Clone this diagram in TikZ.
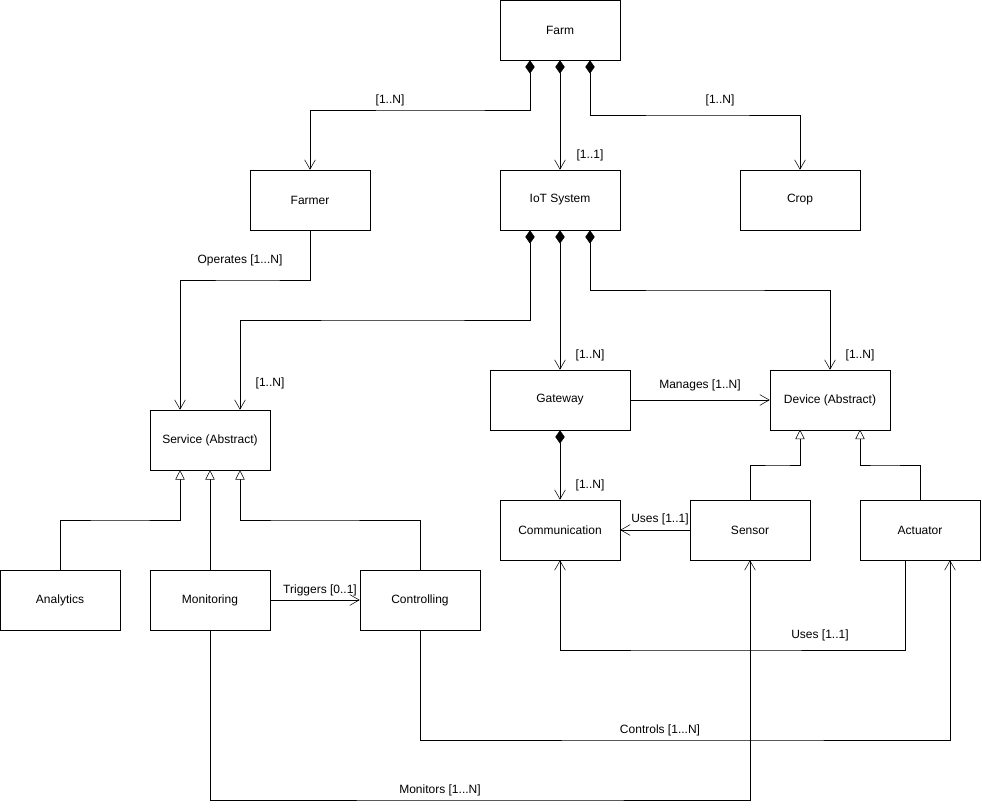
\documentclass[tikz,border=0pt]{standalone}
\usepackage{fontspec}
\setmainfont{Liberation Sans}
\usetikzlibrary{arrows.meta,calc}
\tikzset{
  box/.style={draw,minimum width=90pt,minimum height=45pt,inner sep=0pt,font=\fontsize{9}{11}\selectfont},
  wide/.style={box,minimum width=105pt},
  lbl/.style={font=\fontsize{9}{11}\selectfont},
  assoc/.style={-{Straight Barb[length=7pt,width=8pt]}},
  comp/.style={{Diamond[length=10pt,width=7pt]}-{Straight Barb[length=7pt,width=8pt]}},
  inh/.style={-{Triangle[open,fill=white,length=7pt,width=7pt]}}
}
\begin{document}
\begin{tikzpicture}[x=0.75pt,y=0.75pt,yscale=-1]
\useasboundingbox (0,0) rectangle (982,810);
% classes
\node[box] (farm) at (560,30) {Farm};
\node[box] (farmer) at (310,200) {Farmer};
\node[box] (iot) at (560,200) {IoT System};
\node[box] (crop) at (800,200) {Crop};
\node[wide] (gateway) at (560,400) {Gateway};
\node[box] (device) at (830,400) {Device (Abstract)};
\node[box] (service) at (210,440) {Service (Abstract)};
\node[box] (comm) at (560,530) {Communication};
\node[box] (sensor) at (750,530) {Sensor};
\node[box] (actuator) at (920,530) {Actuator};
\node[box] (analytics) at (60,600) {Analytics};
\node[box] (monitoring) at (210,600) {Monitoring};
\node[box] (controlling) at (420,600) {Controlling};
% composition
\draw[comp] ($(farm.south)+(-30,0)$) |- (440,110) -| (farmer.north);
\draw[comp] (farm.south) -- (iot.north);
\draw[comp] ($(farm.south)+(30,0)$) |- (700,115) -| (crop.north);
\draw[comp] ($(iot.south)+(-30,0)$) |- (400,320) -| ($(service.north)+(30,0)$);
\draw[comp] (iot.south) -- (gateway.north);
\draw[comp] ($(iot.south)+(30,0)$) |- (700,290) -| (device.north);
\draw[comp] (gateway.south) -- (comm.north);
% associations
\draw[assoc] (farmer.south) |- (250,280) -| ($(service.north)+(-30,0)$);
\draw[assoc] (gateway.east) -- (device.west);
\draw[assoc] (sensor.west) -- (comm.east);
\draw[assoc] (monitoring.east) -- (controlling.west);
\draw[assoc] ($(actuator.south)+(-15,0)$) |- (700,650) -| (comm.south);
\draw[assoc] (controlling.south) |- (700,740) -| ($(actuator.south)+(30,0)$);
\draw[assoc] (monitoring.south) |- (500,800) -| (sensor.south);
% inheritance
\draw[inh] (sensor.north) |- (780,465) -| ($(device.north)+(-30,60)$);
\draw[inh] (actuator.north) |- (880,465) -| ($(device.north)+(30,60)$);
\draw[inh] (analytics.north) |- (120,520) -| ($(service.south)+(-30,0)$);
\draw[inh] (monitoring.north) -- (service.south);
\draw[inh] (controlling.north) |- (300,520) -| ($(service.south)+(30,0)$);
% labels
\node[lbl] at (390,100) {[1..N]};
\node[lbl] at (590,155) {[1..1]};
\node[lbl] at (720,100) {[1..N]};
\node[lbl] at (240,260) {Operates [1...N]};
\node[lbl] at (270,383) {[1..N]};
\node[lbl] at (590,355) {[1..N]};
\node[lbl] at (860,355) {[1..N]};
\node[lbl] at (700,385) {Manages [1..N]};
\node[lbl] at (590,485) {[1..N]};
\node[lbl] at (660,519) {Uses [1..1]};
\node[lbl] at (820,635) {Uses [1..1]};
\node[lbl] at (320,590) {Triggers [0..1]};
\node[lbl] at (660,730) {Controls [1...N]};
\node[lbl] at (440,790) {Monitors [1...N]};
\end{tikzpicture}
\end{document}
